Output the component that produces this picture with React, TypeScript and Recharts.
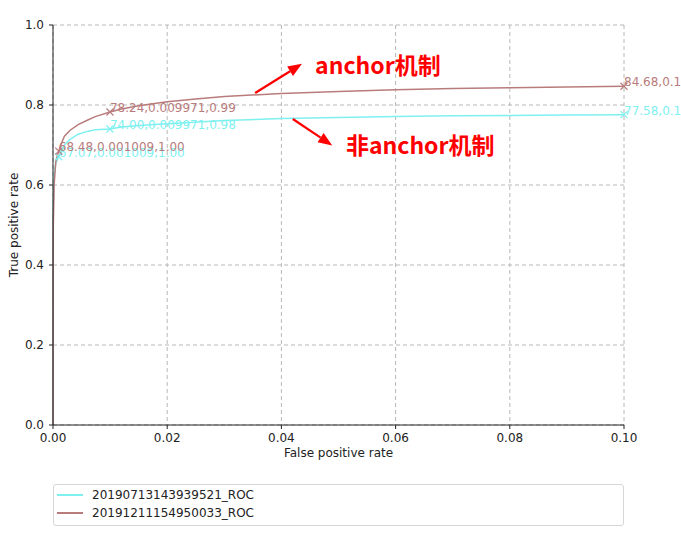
import {
  ComposedChart,
  Line,
  Scatter,
  XAxis,
  YAxis,
  CartesianGrid,
  Legend,
  ReferenceLine,
  ReferenceDot,
} from 'recharts';

// ROC curves: [false positive rate, true positive rate]
const oldRoc = [
  [0, 0], [0.00001, 0.35], [0.00005, 0.55], [0.0002, 0.63], [0.0005, 0.655],
  [0.001009, 0.6707], [0.002, 0.7], [0.003, 0.714], [0.0044, 0.727], [0.006, 0.734],
  [0.0074, 0.738], [0.009971, 0.74], [0.012, 0.745], [0.015, 0.749], [0.02, 0.753],
  [0.03, 0.761], [0.04, 0.766], [0.05, 0.769], [0.06, 0.771], [0.07, 0.773],
  [0.08, 0.774], [0.09, 0.775], [0.1, 0.7758],
];

const newRoc = [
  [0, 0], [0.00001, 0.3], [0.00005, 0.5], [0.0002, 0.6], [0.0005, 0.66],
  [0.001009, 0.6848], [0.0015, 0.705], [0.002, 0.722], [0.003, 0.737], [0.0044, 0.751],
  [0.006, 0.762], [0.0074, 0.771], [0.009971, 0.7824], [0.012, 0.79], [0.015, 0.798],
  [0.02, 0.808], [0.025, 0.815], [0.03, 0.821], [0.04, 0.829], [0.05, 0.834],
  [0.06, 0.838], [0.07, 0.841], [0.08, 0.843], [0.09, 0.845], [0.1, 0.8468],
];

// marked points: [fpr, tpr, label]
const oldMarks = [
  [0.001009, 0.6707, '67.07,0.001009,1.00'],
  [0.009971, 0.74, '74.00,0.009971,0.98'],
  [0.1, 0.7758, '77.58,0.100000,0.93'],
];
const newMarks = [
  [0.001009, 0.6848, '68.48,0.001009,1.00'],
  [0.009971, 0.7824, '78.24,0.009971,0.99'],
  [0.1, 0.8468, '84.68,0.100000,0.93'],
];

const seriesNames = ['20190713143939521_ROC', '20191211154950033_ROC'];
const seriesColors = ['#7ff0f0', '#b97c7c'];

const xTicks = [0, 0.02, 0.04, 0.06, 0.08, 0.1];
const yTicks = [0, 0.2, 0.4, 0.6, 0.8, 1.0];

// red call-outs: arrow tail, arrow head, text position (data coords)
const callouts = [
  { tail: [0.0354, 0.83], head: [0.0436, 0.903], textAt: [0.0459, 0.9025], text: 'anchor机制' },
  { tail: [0.042, 0.765], head: [0.0489, 0.699], textAt: [0.0513, 0.7025], text: '非anchor机制' },
];

const toPoints = (rows: any[]) => rows.map(r => ({ fpr: r[0], tpr: r[1] }));
const toMarks = (rows: any[]) => rows.map(r => ({ fpr: r[0], tpr: r[1], label: r[2] }));

const FONT = '"DejaVu Sans", sans-serif';
const TEXT = '#222';

const makeMarker = (color: string) => (props: any) => {
  const { cx, cy, payload } = props;
  const s = 3.5;
  return (
    <g>
      <path
        d={`M${cx - s},${cy - s}L${cx + s},${cy + s}M${cx - s},${cy + s}L${cx + s},${cy - s}`}
        stroke={color}
        strokeWidth={1.2}
        fill="none"
      />
      <text x={cx} y={cy} fill={color} fontSize={12} fontFamily={FONT}>
        {payload.label}
      </text>
    </g>
  );
};

const Arrow = (props: any) => {
  const { x1, y1, x2, y2 } = props;
  const ang = Math.atan2(y2 - y1, x2 - x1);
  const len = 14;
  const half = 5.5;
  const bx = x2 - len * Math.cos(ang);
  const by = y2 - len * Math.sin(ang);
  const nx = -Math.sin(ang) * half;
  const ny = Math.cos(ang) * half;
  return (
    <g>
      <line x1={x1} y1={y1} x2={bx} y2={by} stroke="#ff0000" strokeWidth={2.2} />
      <polygon points={`${x2},${y2} ${bx + nx},${by + ny} ${bx - nx},${by - ny}`} fill="#ff0000" />
    </g>
  );
};

const makeCalloutText = (text: string) => (props: any) => (
  <text
    x={props.cx}
    y={props.cy}
    fill="#ff0000"
    fontSize={23}
    fontWeight="bold"
    fontFamily='"Noto Sans CJK SC", sans-serif'
    dominantBaseline="central"
  >
    {text}
  </text>
);

const renderLegend = () => (
  <div
    style={{
      boxSizing: 'border-box',
      width: 571,
      height: 42,
      border: '1px solid #d6d6d6',
      borderRadius: 3,
      background: '#fff',
      paddingTop: 1,
      fontFamily: FONT,
      fontSize: 12,
      color: TEXT,
    }}
  >
    {seriesNames.map((name, i) => (
      <div key={name} style={{ position: 'relative', height: 18, lineHeight: '18px' }}>
        <span
          style={{
            position: 'absolute',
            left: 3,
            top: 8,
            width: 26,
            height: 1.5,
            background: seriesColors[i],
          }}
        />
        <span style={{ position: 'absolute', left: 38 }}>{name}</span>
      </div>
    ))}
  </div>
);

export default function App() {
  return (
    <div
      style={{
        position: 'absolute',
        left: 0,
        top: 0,
        width: 681,
        height: 541,
        background: '#fff',
        fontFamily: FONT,
      }}
    >
      <ComposedChart width={681} height={541} margin={{ top: 25, right: 57, bottom: 86, left: 8 }}>
        <CartesianGrid stroke="#b8b8b8" strokeDasharray="4 3" />
        <XAxis
          dataKey="fpr"
          type="number"
          domain={[0, 0.1]}
          ticks={xTicks}
          tickFormatter={(v: number) => v.toFixed(2)}
          height={30}
          tickSize={4}
          tickMargin={4}
          stroke="#222"
          tick={{ fill: TEXT, fontSize: 12 }}
          label={{
            content: (p: any) => (
              <text
                x={p.viewBox.x + p.viewBox.width / 2}
                y={457}
                textAnchor="middle"
                fill={TEXT}
                fontSize={12}
              >
                False positive rate
              </text>
            ),
          }}
        />
        <XAxis
          xAxisId="top"
          orientation="top"
          type="number"
          domain={[0, 0.1]}
          height={0}
          tick={false}
          tickLine={false}
          stroke="#222"
          label={{ value: 'ROC', position: 'top', offset: 8, fill: TEXT, fontSize: 12 }}
        />
        <YAxis
          dataKey="tpr"
          type="number"
          domain={[0, 1]}
          ticks={yTicks}
          tickFormatter={(v: number) => v.toFixed(1)}
          width={45}
          tickSize={4}
          tickMargin={5}
          stroke="#222"
          tick={{ fill: TEXT, fontSize: 12 }}
          label={{
            content: (p: any) => {
              const cx = 14;
              const cy = p.viewBox.y + p.viewBox.height / 2;
              return (
                <text
                  x={cx}
                  y={cy}
                  transform={`rotate(-90, ${cx}, ${cy})`}
                  textAnchor="middle"
                  dominantBaseline="central"
                  fill={TEXT}
                  fontSize={12}
                >
                  True positive rate
                </text>
              );
            },
          }}
        />
        <YAxis
          yAxisId="right"
          orientation="right"
          type="number"
          domain={[0, 1]}
          width={0}
          tick={false}
          tickLine={false}
          stroke="#222"
        />
        <Line
          data={toPoints(oldRoc)}
          dataKey="tpr"
          name={seriesNames[0]}
          type="linear"
          stroke={seriesColors[0]}
          strokeWidth={1.5}
          dot={false}
          isAnimationActive={false}
        />
        <Line
          data={toPoints(newRoc)}
          dataKey="tpr"
          name={seriesNames[1]}
          type="linear"
          stroke={seriesColors[1]}
          strokeWidth={1.5}
          dot={false}
          isAnimationActive={false}
        />
        <Scatter
          data={toMarks(oldMarks)}
          dataKey="tpr"
          legendType="none"
          shape={makeMarker(seriesColors[0])}
          isAnimationActive={false}
        />
        <Scatter
          data={toMarks(newMarks)}
          dataKey="tpr"
          legendType="none"
          shape={makeMarker(seriesColors[1])}
          isAnimationActive={false}
        />
        {callouts.map(c => (
          <ReferenceLine
            key={`arrow-${c.text}`}
            segment={[
              { x: c.tail[0], y: c.tail[1] },
              { x: c.head[0], y: c.head[1] },
            ]}
            ifOverflow="visible"
            shape={Arrow}
          />
        ))}
        {callouts.map(c => (
          <ReferenceDot
            key={`text-${c.text}`}
            x={c.textAt[0]}
            y={c.textAt[1]}
            ifOverflow="visible"
            shape={makeCalloutText(c.text)}
          />
        ))}
        <Legend
          layout="horizontal"
          verticalAlign="middle"
          align="center"
          wrapperStyle={{ left: 53, top: 484, width: 571, height: 42 }}
          content={renderLegend}
        />
      </ComposedChart>
    </div>
  );
}
